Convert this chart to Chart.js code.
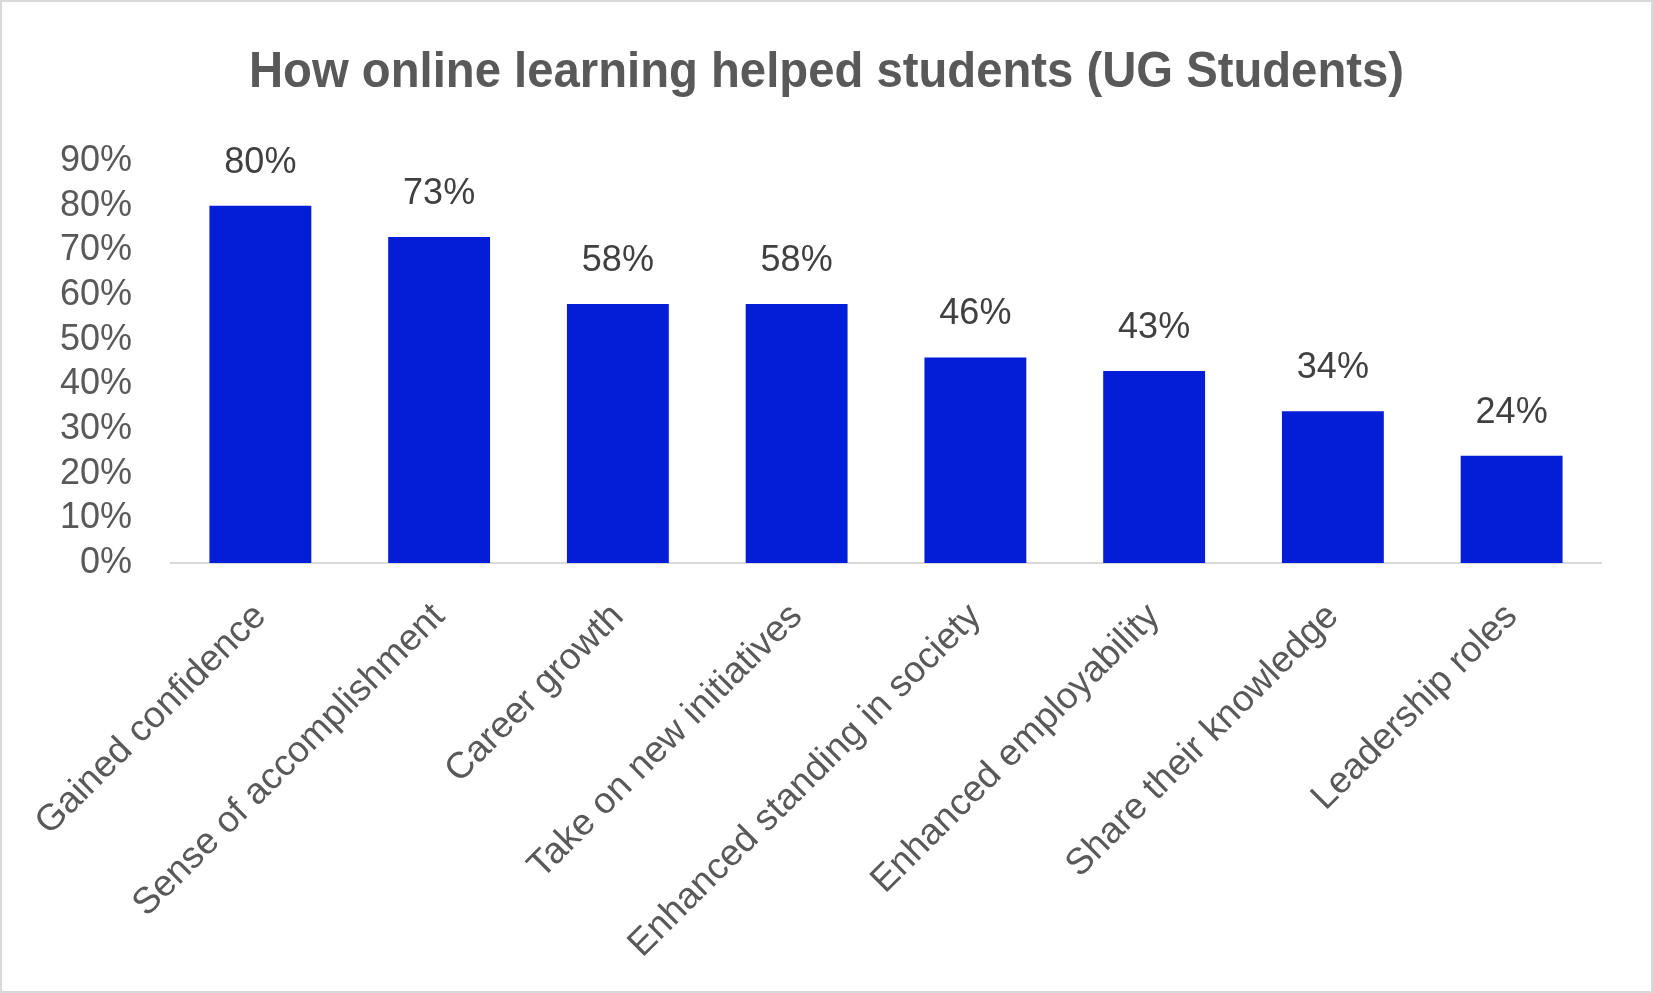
<!DOCTYPE html>
<html>
<head>
<meta charset="utf-8">
<script src="https://cdn.jsdelivr.net/npm/chart.js@4"></script>
<style>
  html, body { margin: 0; padding: 0; background: #ffffff; }
  #wrap { width: 1653px; height: 993px; position: relative; }
</style>
</head>
<body>
<div id="wrap"><canvas id="c" width="1653" height="993"></canvas></div>
<script>
const titleText = "How online learning helped students (UG Students)";
const categories = [
  "Gained confidence",
  "Sense of accomplishment",
  "Career growth",
  "Take on new initiatives",
  "Enhanced standing in society",
  "Enhanced employability",
  "Share their knowledge",
  "Leadership roles"
];
const values = [0.80, 0.73, 0.58, 0.58, 0.46, 0.43, 0.34, 0.24];
const yTicks = [0, 0.1, 0.2, 0.3, 0.4, 0.5, 0.6, 0.7, 0.8, 0.9];

const labelFont = "'Liberation Sans', Arial, sans-serif";

const bgPlugin = {
  id: 'bg',
  beforeDraw(chart) {
    const ctx = chart.ctx;
    ctx.save();
    ctx.fillStyle = '#ffffff';
    ctx.fillRect(0, 0, chart.width, chart.height);
    ctx.strokeStyle = '#d9d9d9';
    ctx.lineWidth = 2;
    ctx.strokeRect(1, 1, chart.width - 2, chart.height - 2);
    ctx.restore();
  }
};

// Title drawn in a narrow (horizontally condensed) bold face, as in the original
const titlePlugin = {
  id: 'narrowTitle',
  afterDraw(chart) {
    const ctx = chart.ctx;
    ctx.save();
    ctx.font = "bold 50px " + labelFont;
    ctx.fillStyle = '#595959';
    ctx.textAlign = 'center';
    ctx.textBaseline = 'alphabetic';
    const w = ctx.measureText(titleText).width;
    const target = 1155;
    const sx = Math.min(1, target / w);
    ctx.translate(chart.width / 2, 87);
    ctx.scale(sx, 1);
    ctx.fillText(titleText, 0, 0);
    ctx.restore();
  }
};

const dataLabelPlugin = {
  id: 'dataLabels',
  afterDatasetsDraw(chart) {
    const ctx = chart.ctx;
    const meta = chart.getDatasetMeta(0);
    ctx.save();
    ctx.fillStyle = '#404040';
    ctx.font = "36px " + labelFont;
    ctx.textAlign = 'center';
    ctx.textBaseline = 'middle';
    meta.data.forEach((bar, i) => {
      const v = chart.data.datasets[0].data[i];
      ctx.fillText(Math.round(v * 100) + '%', bar.x, bar.y - 43);
    });
    ctx.restore();
  }
};

new Chart(document.getElementById('c'), {
  type: 'bar',
  data: {
    labels: categories,
    datasets: [{
      data: values,
      backgroundColor: '#031ed6',
      borderWidth: 0,
      barPercentage: 0.57,
      categoryPercentage: 1.0
    }]
  },
  options: {
    responsive: false,
    animation: false,
    devicePixelRatio: 1,
    layout: { padding: { top: 161, left: 0, right: 0, bottom: 0 } },
    plugins: {
      legend: { display: false },
      tooltip: { enabled: false },
      title: { display: false }
    },
    scales: {
      y: {
        min: 0,
        max: 0.9,
        afterBuildTicks(scale) { scale.ticks = yTicks.map(v => ({ value: v })); },
        afterFit(scale) { scale.width = 171; },
        grid: { display: false, drawTicks: false },
        border: { display: false },
        ticks: {
          autoSkip: false,
          padding: 39,
          color: '#595959',
          font: { family: labelFont, size: 36 },
          callback: v => Math.round(v * 100) + '%'
        }
      },
      x: {
        afterFit(scale) { scale.height = 430; scale.paddingLeft = 0; scale.paddingRight = 52; },
        grid: { display: false, drawTicks: false },
        border: { display: true, color: '#d9d9d9', width: 2 },
        ticks: {
          autoSkip: false,
          maxRotation: 45,
          minRotation: 45,
          padding: 32,
          color: '#595959',
          font: { family: labelFont, size: 37 }
        }
      }
    }
  },
  plugins: [bgPlugin, dataLabelPlugin, titlePlugin]
});
</script>
</body>
</html>
